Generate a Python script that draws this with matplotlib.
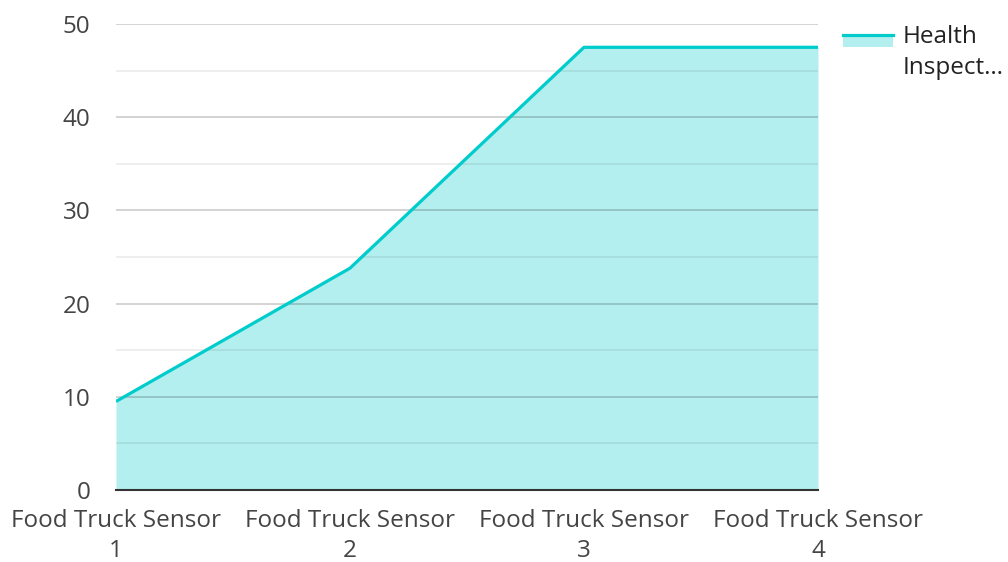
import matplotlib
matplotlib.use("Agg")
import matplotlib.pyplot as plt
from matplotlib.lines import Line2D
from matplotlib.patches import Rectangle

categories = ["Food Truck Sensor\n1", "Food Truck Sensor\n2",
              "Food Truck Sensor\n3", "Food Truck Sensor\n4"]
values = [9.5, 23.8, 47.5, 47.5]
series_name = "Health\nInspect…"
y_ticks = [0, 10, 20, 30, 40, 50]

LINE = "#00CCCC"
FILL = "#B2EFEE"
TXT = "#444444"
FS = 17.5

plt.rcParams["font.family"] = ["Open Sans", "DejaVu Sans"]

fig = plt.figure(figsize=(10.08, 5.62), dpi=100)
ax = fig.add_axes([116 / 1008, 1 - 490 / 562, (818 - 116) / 1008, (490 - 24) / 562])

x = list(range(len(categories)))
ax.fill_between(x, values, 0, color=FILL, zorder=1, lw=0)
ax.plot(x, values, color=LINE, lw=2.3, zorder=3, solid_capstyle="butt")

ax.set_xlim(0, len(categories) - 1)
ax.set_ylim(0, 50)
ax.set_yticks(y_ticks)
ax.set_yticks([5, 15, 25, 35, 45], minor=True)
ax.grid(axis="y", which="major", color="#000000", alpha=0.2, lw=1.2, zorder=2)
ax.grid(axis="y", which="minor", color="#000000", alpha=0.08, lw=1.2, zorder=2)
ax.set_axisbelow(False)
ax.set_xticks(x)
ax.set_xticklabels(categories, fontsize=FS, color=TXT, linespacing=1.3)
ax.tick_params(axis="y", which="both", length=0, pad=18.5, labelsize=FS, labelcolor=TXT)
ax.tick_params(axis="x", length=0, pad=14)
for s in ["left", "right", "top"]:
    ax.spines[s].set_visible(False)
ax.spines["bottom"].set_color("#333333")
ax.spines["bottom"].set_linewidth(1.5)
ax.spines["bottom"].set_zorder(4)

# legend drawn by hand
fig.add_artist(Rectangle((843 / 1008, 1 - 47 / 562), 50 / 1008, 12 / 562,
                         color=FILL, lw=0, transform=fig.transFigure))
fig.add_artist(Line2D([843 / 1008, 893 / 1008], [1 - 35 / 562, 1 - 35 / 562],
                      color=LINE, lw=2.3, transform=fig.transFigure))
fig.text(903 / 1008, 1 - 52.5 / 562, series_name, fontsize=FS, color="#222222",
         va="center", ha="left", linespacing=1.42)

fig.savefig("out.png", dpi=100)
